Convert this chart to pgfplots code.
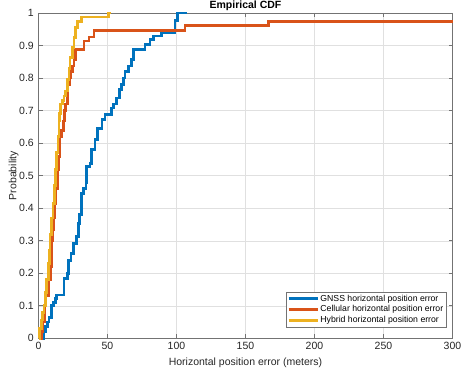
\documentclass[border=0pt]{standalone}
\usepackage{fontspec}
\setmainfont{Liberation Sans}
\usepackage{pgfplots}
\pgfplotsset{compat=1.18}
\definecolor{mblue}{rgb}{0,0.447,0.741}
\definecolor{mred}{rgb}{0.85,0.325,0.098}
\definecolor{myellow}{rgb}{0.929,0.694,0.125}
\begin{document}
\begin{tikzpicture}
\useasboundingbox (-38.5pt,-47.7pt) rectangle (435.5pt,338.3pt);
\begin{axis}[
  at={(0pt,0pt)}, anchor=south west,
  scale only axis, width=414pt, height=325.3pt,
  xmin=0, xmax=300, ymin=0, ymax=1,
  xtick={0,50,100,150,200,250,300},
  ytick={0,0.1,0.2,0.3,0.4,0.5,0.6,0.7,0.8,0.9,1},
  yticklabels={0,0.1,0.2,0.3,0.4,0.5,0.6,0.7,0.8,0.9,1},
  grid=major, major grid style={black!12, line width=0.4pt},
  tick align=inside, tick pos=both, major tick length=4pt,
  axis line style={black!55, line width=0.6pt},
  tick style={black!55, line width=0.6pt},
  tick label style={font=\fontsize{10.5}{12}\selectfont, text=black!85},
  /pgf/number format/assume math mode=true,
  xticklabel style={anchor=north, inner sep=0pt, yshift=-3.2pt},
  yticklabel style={anchor=east, inner sep=0pt, xshift=-4.5pt},
  every axis title shift=0pt,
  title={Empirical CDF},
  title style={at={(0.5,1)}, anchor=base, yshift=4.9pt, inner sep=0pt, font=\fontsize{10.5}{12}\selectfont\bfseries},
  xlabel={Horizontal position error (meters)},
  xlabel style={at={(0.5,0)}, anchor=base, yshift=-26.7pt, inner sep=0pt, font=\fontsize{10.5}{12}\selectfont, text=black!85},
  ylabel={Probability},
  ylabel style={at={(0,0.5)}, anchor=base, yshift=22pt, inner sep=0pt, font=\fontsize{10.5}{12}\selectfont, text=black!85},
  legend style={at={(0.9843,0.0347)}, anchor=south east, draw=black!55, line width=0.5pt,
    font=\fontsize{8.7}{10}\selectfont, inner sep=1pt, fill=white,
    nodes={inner sep=1.5pt}, cells={anchor=west}},
  legend image code/.code={\draw[mark repeat=2,mark phase=2,#1] plot coordinates {(0pt,0pt) (14.5pt,0pt) (29pt,0pt)};},
  clip=false,
]
\addplot[const plot, mblue, line width=2.8pt] coordinates {
(2.8,0) (3.5,0.02) (5.2,0.036) (6.5,0.05) (7.6,0.065) (9.3,0.1) (11,0.11) (12.4,0.123)
(13.2,0.133) (18.5,0.185) (20.9,0.2) (21.6,0.24) (23.5,0.26) (25.2,0.292) (27.7,0.313)
(28.9,0.354) (30,0.38) (31.3,0.446) (32.5,0.46) (34.4,0.48) (34.9,0.528) (37.3,0.538)
(38.6,0.58) (40.9,0.61) (42.6,0.646) (46,0.672) (48.2,0.687) (53,0.708) (54.5,0.72)
(56.7,0.739) (58.6,0.765) (60,0.78) (61.5,0.80) (62.7,0.82) (65.1,0.837) (67.5,0.857)
(68.7,0.888) (77.2,0.903) (80.8,0.919) (83.2,0.929) (89.3,0.939) (98.9,0.978)
(101,1.0) (107.8,1.0)};
\addlegendentry{GNSS horizontal position error}
\addplot[const plot, mred, line width=2.8pt] coordinates {
(1.1,0) (2,0.02) (3,0.05) (4.7,0.13) (7,0.15) (7.6,0.18) (8.5,0.22) (9.5,0.3) (10,0.333)
(10.6,0.37) (11.7,0.415) (12.5,0.46) (13.6,0.518) (14.5,0.56) (15.6,0.62) (16.8,0.64)
(18,0.668) (18.7,0.7) (19.7,0.72) (20.9,0.78) (22.8,0.80) (23.5,0.82) (24.5,0.837)
(25.7,0.857) (26.9,0.888) (33,0.914) (36.6,0.926) (40.2,0.945) (106.2,0.962)
(166.5,0.974) (300,0.974)};
\addlegendentry{Cellular horizontal position error}
\addplot[const plot, myellow, line width=2.8pt] coordinates {
(0.3,0) (1,0.03) (2,0.056) (3,0.08) (4,0.10) (5,0.14) (5.9,0.18) (7,0.23) (7.8,0.27)
(8.3,0.318) (9.5,0.37) (10.5,0.415) (11.5,0.47) (12.4,0.518) (13.2,0.57) (14.1,0.62)
(14.9,0.668) (15.5,0.69) (16,0.72) (17.5,0.73) (18.5,0.745) (19.7,0.76) (20.9,0.796)
(22.1,0.83) (22.8,0.862) (24.5,0.893) (25.7,0.924) (26.9,0.955) (28.1,0.975)
(31.3,0.988) (51,1.0) (52.8,1.0)};
\addlegendentry{Hybrid horizontal position error}
\end{axis}
\end{tikzpicture}
\end{document}
